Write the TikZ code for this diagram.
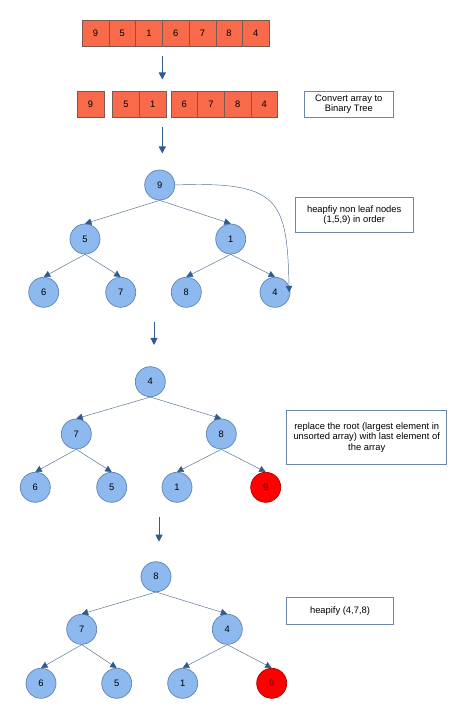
\documentclass[tikz,border=0pt]{standalone}
\usepackage{fontspec}
\setmainfont{Liberation Sans}
\usepackage{xcolor}
\usetikzlibrary{positioning, arrows.meta}
\definecolor{cellfill}{HTML}{F96A4B}
\definecolor{celledge}{HTML}{7A5A50}
\definecolor{nodefill}{HTML}{8DB9EE}
\definecolor{nodeedge}{HTML}{5E84B3}
\definecolor{hotfill}{HTML}{FF0000}
\definecolor{hotedge}{HTML}{B00000}
\definecolor{linkcol}{HTML}{557090}
\definecolor{tipcol}{HTML}{2E5C8E}
\definecolor{boxedge}{HTML}{6F87A6}
\newcommand{\CellSize}{0.8cm}

\tikzset{
    cell/.style={draw=celledge, fill=cellfill, minimum size=\CellSize, inner sep=0pt, font=\fontsize{8}{9.5}\selectfont},
    heapnode/.style={circle, draw=nodeedge, line width=0.6pt, fill=nodefill, minimum size=0.9cm, inner sep=0pt, font=\fontsize{8}{9.5}\selectfont},
    hotnode/.style={heapnode, draw=hotedge, fill=hotfill, text=hotedge!70!black},
    note/.style={draw=boxedge, align=center, inner sep=2pt, font=\fontsize{8}{9}\selectfont},
    link/.style={draw=linkcol, -{Triangle[length=5.5pt,width=5.5pt,color=tipcol]}},
    step arrow/.style={draw=tipcol, thick, -{Triangle[length=6pt,width=6pt]}}
}

\begin{document}
\begin{tikzpicture}[x=0.03cm, y=-0.03cm]
    \useasboundingbox (0,0) rectangle (474,711);

    % first array
    \foreach \i/\v in {0/9,1/5,2/1,3/6,4/7,5/8,6/4}
    \node[cell] (a\i) at (95.6+26.7*\i, 33.3) {\v};

    % split array
    \foreach \i/\x/\v in {0/90.5/9,1/126/5,2/152.7/1,3/184.3/6,4/211/7,5/237.7/8,6/264.3/4}
    \node[cell] (b\i) at (\x, 104.3) {\v};
    \node[note, minimum width=2.67cm, minimum height=0.8cm] (convert) at (348.8,104.3) {Convert array to\\Binary Tree};

    % arrows between steps
    \coordinate (s1a) at (162.3,56);   \coordinate (s1b) at (162.3,79.5);
    \coordinate (s2a) at (162.3,126.7); \coordinate (s2b) at (162.3,153.5);
    \coordinate (s3a) at (154,321.7);  \coordinate (s3b) at (154,345);
    \coordinate (s4a) at (159,517.3);  \coordinate (s4b) at (159,541.7);
    \foreach \s in {1,2,3,4}
    \draw[step arrow] (s\s a) -- (s\s b);

    % first tree
    \node[heapnode] (r1) at (159.7,185) {9};
    \node[heapnode] (r1l) at (85,239) {5};
    \node[heapnode] (r1r) at (230.7,239) {1};
    \node[heapnode] (r1ll) at (43.7,292.3) {6};
    \node[heapnode] (r1lr) at (120.7,292.3) {7};
    \node[heapnode] (r1rl) at (186.3,292.3) {8};
    \node[heapnode] (r1rr) at (275,292.3) {4};
    \node[note, minimum width=3.55cm, minimum height=1.05cm] (heapfy) at (354.2,215.2) {heapfiy non leaf nodes\\(1,5,9) in order};
    \draw[link] (r1.east) .. controls (280,181) and (287,200) .. ([xshift=-1pt]r1rr.east);

    % second tree
    \node[heapnode] (r2) at (150.3,381.7) {4};
    \node[heapnode] (r2l) at (76.3,434) {7};
    \node[heapnode] (r2r) at (221.3,434) {8};
    \node[heapnode] (r2ll) at (35.3,487.3) {6};
    \node[heapnode] (r2lr) at (111.7,487.3) {5};
    \node[heapnode] (r2rl) at (177,487.3) {1};
    \node[hotnode] (r2rr) at (265.7,487.3) {9};
    \node[note, minimum width=4.8cm, minimum height=1.61cm] (replace) at (366.7,437.5) {replace the root (largest element in\\unsorted array) with last element of\\the array};

    % third tree
    \node[heapnode] (r3) at (156,576.7) {8};
    \node[heapnode] (r3l) at (81.7,629.3) {7};
    \node[heapnode] (r3r) at (227.3,629.3) {4};
    \node[heapnode] (r3ll) at (41,683.3) {6};
    \node[heapnode] (r3lr) at (116.7,683.3) {5};
    \node[heapnode] (r3rl) at (182.7,683.3) {1};
    \node[hotnode] (r3rr) at (271.7,683.3) {9};
    \node[note, minimum width=3.2cm, minimum height=0.81cm] (again) at (340,610.8) {heapify (4,7,8)};

    % tree edges
    \foreach \t in {1,2,3}{
        \draw[link] (r\t.south) -- (r\t l.north);
        \draw[link] (r\t.south) -- (r\t r.north);
        \draw[link] (r\t l.south) -- (r\t ll.north);
        \draw[link] (r\t l.south) -- (r\t lr.north);
        \draw[link] (r\t r.south) -- (r\t rl.north);
        \draw[link] (r\t r.south) -- (r\t rr.north);
    }
\end{tikzpicture}
\end{document}
